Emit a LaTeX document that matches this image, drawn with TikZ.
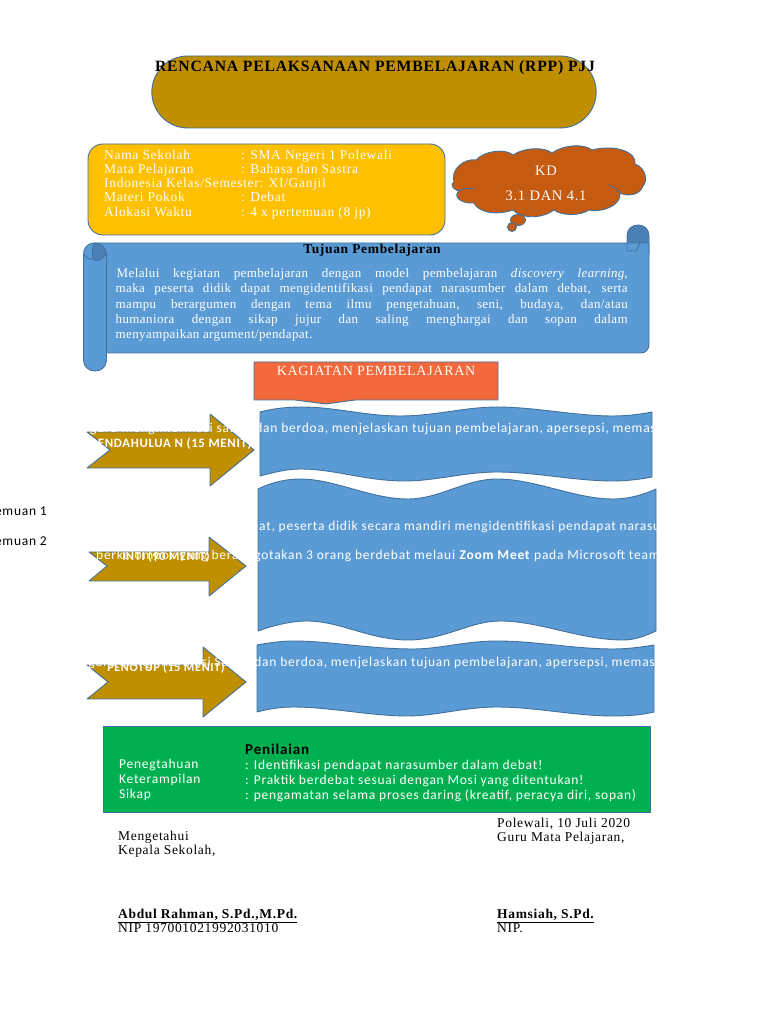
\documentclass[tikz,border=0pt]{standalone}
\usepackage{fontspec}
\usetikzlibrary{shapes.geometric,shapes.misc}
\setmainfont{Liberation Serif}[LetterSpace=5]
\setsansfont{Carlito}[LetterSpace=5.5]
\definecolor{gold}{HTML}{BF8F00}
\definecolor{amber}{HTML}{FFC000}
\definecolor{rust}{HTML}{C55A11}
\definecolor{sky}{HTML}{5B9BD5}
\definecolor{skydark}{HTML}{4A80B5}
\definecolor{edge}{HTML}{41719C}
\definecolor{coral}{HTML}{F4693B}
\definecolor{leaf}{HTML}{00B050}
\tikzset{
  panel/.style={draw=edge,line width=0.9bp},
  sertext/.style={font=\fontsize{13.5bp}{15bp}\selectfont,anchor=base west,inner sep=0pt},
  sanstext/.style={font=\sffamily\fontsize{13.5bp}{15bp}\selectfont,anchor=base west,inner sep=0pt},
  whitetext/.style={sertext,text=white},
  wavetext/.style={sanstext,text=white},
  arrowtext/.style={sanstext,text=white,anchor=base,font=\sffamily\bfseries\fontsize{12.1bp}{15bp}\selectfont},
}
\begin{document}
\begin{tikzpicture}[>=latex,line join=bevel,]
\useasboundingbox (0bp,0bp) rectangle (768bp,1024bp);
%%
\node (node_titlebox) at (374.0bp,932.0bp) [panel,fill=gold,rounded rectangle,minimum width=451bp,minimum height=72bp] {};
  \node (node_title) at (375.0bp,952.5bp) [sertext,anchor=base,font=\bfseries\fontsize{15.7bp}{15bp}\selectfont] {RENCANA PELAKSANAAN PEMBELAJARAN (RPP) PJJ};
%
\node (node_infobox) at (266.5bp,834.5bp) [panel,fill=amber,minimum width=357bp,minimum height=91bp,rounded corners=15bp] {};
  \node (node_nama) at (104.0bp,864.0bp) [whitetext] {Nama Sekolah};
  \node (node_namaval) at (241.0bp,864.0bp) [whitetext] {: SMA Negeri 1 Polewali};
  \node (node_mapel) at (104.0bp,850.0bp) [whitetext] {Mata Pelajaran};
  \node (node_mapelval) at (241.0bp,850.0bp) [whitetext] {: Bahasa dan Sastra};
  \node (node_kelas) at (104.0bp,836.0bp) [whitetext] {Indonesia Kelas/Semester: XI/Ganjil};
  \node (node_materi) at (104.0bp,822.0bp) [whitetext] {Materi Pokok};
  \node (node_materival) at (241.0bp,822.0bp) [whitetext] {: Debat};
  \node (node_alokasi) at (104.0bp,807.0bp) [whitetext] {Alokasi Waktu};
  \node (node_alokasival) at (241.0bp,807.0bp) [whitetext] {: 4 x pertemuan (8 jp)};
%
\draw [panel,fill=rust] (454bp,842bp) ..controls (450bp,855bp) and (465bp,866bp)  .. (476bp,864bp)
  ..controls (484bp,873bp) and (505bp,876bp)  .. (513bp,869bp)
  ..controls (525bp,877bp) and (545bp,877bp)  .. (552bp,871bp)
  ..controls (565bp,880bp) and (585bp,880bp)  .. (592bp,874bp)
  ..controls (615bp,880bp) and (637bp,872bp)  .. (635bp,860bp)
  ..controls (646bp,856bp) and (648bp,843bp)  .. (643bp,838bp)
  ..controls (640bp,829bp) and (628bp,827bp)  .. (620bp,831bp)
  ..controls (622bp,818bp) and (600bp,811bp)  .. (589bp,814bp)
  ..controls (580bp,808bp) and (562bp,808bp)  .. (554bp,814bp)
  ..controls (540bp,804bp) and (520bp,806bp)  .. (513bp,814bp)
  ..controls (495bp,808bp) and (478bp,812bp)  .. (474bp,821bp)
  ..controls (462bp,820bp) and (452bp,827bp)  .. (459bp,833bp)
  ..controls (452bp,835bp) and (450bp,840bp)  .. (454bp,842bp) -- cycle;
  \draw [panel] (609bp,839bp) ..controls (614bp,837bp) and (618bp,834bp)  .. (620bp,831bp);
  \draw [panel] (459bp,833bp) ..controls (463bp,836bp) and (470bp,836bp)  .. (475bp,835bp);
  \node (node_bubble_a) at (518.0bp,804.0bp) [panel,fill=rust,ellipse,minimum width=15bp,minimum height=11bp,inner sep=0pt] {};
  \node (node_bubble_b) at (512.0bp,797.0bp) [panel,fill=rust,circle,minimum size=9bp,inner sep=0pt] {};
  \node (node_kd) at (546.0bp,848.0bp) [whitetext,anchor=base,font=\fontsize{14.5bp}{15bp}\selectfont] {KD};
  \node (node_kdval) at (546.0bp,823.0bp) [whitetext,anchor=base,font=\fontsize{14.5bp}{15bp}\selectfont] {3.1 DAN 4.1};
%
\draw [panel,fill=skydark] (627bp,781bp) -- (627bp,788bp) ..controls (627bp,795bp) and (632bp,799bp)  .. (638bp,799bp)
  ..controls (644bp,799bp) and (649bp,795bp)  .. (649bp,788bp) -- (649bp,770bp) -- (627bp,770bp) -- cycle;
\draw [panel,fill=sky] (83.5bp,770bp) ..controls (83.5bp,776bp) and (88bp,781bp)  .. (94bp,781bp) -- (649bp,781bp) -- (649bp,680bp)
  ..controls (649bp,675bp) and (646bp,671bp)  .. (641bp,671bp) -- (106.5bp,671bp) -- (106.5bp,664bp)
  ..controls (106.5bp,657bp) and (101bp,653bp)  .. (95bp,653bp)
  ..controls (89bp,653bp) and (83.5bp,657bp)  .. (83.5bp,664bp) -- cycle;
  \draw [panel] (627bp,781bp) -- (627bp,773bp) -- (636bp,773bp) -- (640bp,781bp);
  \draw [panel] (106.5bp,671bp) -- (106.5bp,770bp);
  \draw [panel,fill=skydark] (95bp,781bp) ..controls (101bp,781bp) and (106.5bp,775bp)  .. (106.5bp,770bp)
    ..controls (100bp,763bp) and (94bp,761bp)  .. (93bp,766bp)
    ..controls (92bp,772bp) and (92bp,778bp)  .. (95bp,781bp) -- cycle;
  \draw [panel] (83.5bp,770bp) ..controls (87bp,765bp) and (91bp,763bp)  .. (93bp,766bp);
  \node (node_tujuan) at (372.0bp,770.0bp) [sertext,anchor=base,font=\bfseries\fontsize{13.5bp}{15bp}\selectfont] {Tujuan Pembelajaran};
  \node (node_para) at (115.5bp,755.5bp) [sertext,anchor=north west,text=white,text width=512bp,align=justify,font=\fontsize{13bp}{15.2bp}\selectfont\addfontfeatures{LetterSpace=3}] {\hspace*{1bp}Melalui kegiatan pembelajaran dengan model pembelajaran \textit{discovery learning},\linebreak
    maka peserta didik dapat mengidentifikasi pendapat narasumber dalam debat, serta\linebreak
    mampu berargumen dengan tema ilmu pengetahuan, seni, budaya, dan/atau\linebreak
    humaniora dengan sikap jujur dan saling menghargai dan sopan dalam\linebreak
    menyampaikan argument/pendapat.};
%
\draw [panel,fill=coral] (254bp,662bp) -- (498bp,662bp) -- (498bp,624bp) -- (355bp,624bp) -- (326bp,620bp) -- (295bp,624bp) -- (254bp,624bp) -- cycle;
  \node (node_kegiatan) at (376.0bp,648.0bp) [whitetext,anchor=base,font=\fontsize{14bp}{15bp}\selectfont] {KAGIATAN PEMBELAJARAN};
%
\draw [panel,fill=sky] (260bp,612bp) ..controls (275bp,616bp) and (290bp,617bp)  .. (302bp,617bp)
  ..controls (335bp,617bp) and (365bp,608bp)  .. (400bp,608bp)
  ..controls (435bp,608bp) and (465bp,617bp)  .. (497bp,617bp)
  ..controls (535bp,617bp) and (575bp,608bp)  .. (613bp,608bp)
  ..controls (628bp,608bp) and (642bp,610bp)  .. (652bp,612bp) -- (652bp,547bp)
  ..controls (642bp,545bp) and (628bp,543bp)  .. (613bp,543bp)
  ..controls (575bp,543bp) and (535bp,552bp)  .. (497bp,552bp)
  ..controls (465bp,552bp) and (435bp,543bp)  .. (405bp,543bp)
  ..controls (365bp,543bp) and (335bp,555bp)  .. (300bp,555bp)
  ..controls (288bp,555bp) and (275bp,552bp)  .. (260bp,548bp) -- cycle;
\draw [panel,fill=sky] (258bp,535bp) ..controls (270bp,541bp) and (285bp,545bp)  .. (300bp,545bp)
  ..controls (335bp,545bp) and (370bp,525bp)  .. (408bp,525bp)
  ..controls (440bp,525bp) and (465bp,545bp)  .. (497bp,545bp)
  ..controls (535bp,545bp) and (575bp,525bp)  .. (613bp,525bp)
  ..controls (630bp,525bp) and (645bp,530bp)  .. (656bp,535bp) -- (656bp,393bp)
  ..controls (645bp,388bp) and (635bp,384bp)  .. (623bp,384bp)
  ..controls (580bp,384bp) and (540bp,403bp)  .. (500bp,403bp)
  ..controls (470bp,403bp) and (445bp,384bp)  .. (408bp,384bp)
  ..controls (370bp,384bp) and (340bp,403bp)  .. (307bp,403bp)
  ..controls (290bp,403bp) and (272bp,398bp)  .. (258bp,393bp) -- cycle;
\draw [panel,fill=sky] (257bp,379bp) ..controls (268bp,381bp) and (281bp,383bp)  .. (293bp,383bp)
  ..controls (330bp,383bp) and (370bp,375bp)  .. (413bp,375bp)
  ..controls (440bp,375bp) and (465bp,383bp)  .. (497bp,383bp)
  ..controls (535bp,383bp) and (575bp,375bp)  .. (613bp,375bp)
  ..controls (628bp,375bp) and (642bp,377bp)  .. (654bp,379bp) -- (654bp,312bp)
  ..controls (642bp,309bp) and (628bp,308bp)  .. (613bp,308bp)
  ..controls (575bp,308bp) and (535bp,317bp)  .. (497bp,317bp)
  ..controls (465bp,317bp) and (435bp,308bp)  .. (408bp,308bp)
  ..controls (370bp,308bp) and (330bp,317bp)  .. (293bp,317bp)
  ..controls (281bp,317bp) and (268bp,315bp)  .. (257bp,312bp) -- cycle;
%
\draw [panel,fill=gold] (87bp,592bp) -- (210bp,592bp) -- (210bp,610bp) -- (254bp,574bp) -- (210bp,538bp) -- (210bp,556bp) -- (87bp,556bp) -- (110bp,574bp) -- cycle;
\draw [panel,fill=gold] (89bp,472bp) -- (209bp,472bp) -- (209bp,487bp) -- (246bp,458bp) -- (209bp,428bp) -- (209bp,443bp) -- (89bp,443bp) -- (107bp,458bp) -- cycle;
\draw [panel,fill=gold] (87bp,359bp) -- (203bp,359bp) -- (203bp,377bp) -- (246bp,342bp) -- (203bp,307bp) -- (203bp,325bp) -- (87bp,325bp) -- (108bp,342bp) -- cycle;
%
\node (node_wave_a) at (656.0bp,591.0bp) [wavetext,anchor=base east] {Ibu guru menginformasi salam dan berdoa, menjelaskan tujuan pembelajaran, apersepsi, memas};
  \node (node_wave_b) at (259.0bp,493.0bp) [wavetext] {at, peserta didik secara mandiri mengidentifikasi pendapat narasu};
  \node (node_wave_c) at (96.0bp,464.0bp) [wavetext] {berkelompok yang beranggotakan 3 orang berdebat melaui \textbf{Zoom Meet} pada Microsoft team};
  \node (node_wave_d) at (655.0bp,357.0bp) [wavetext,anchor=base east] {Ibu guru menginformasi Salam dan berdoa, menjelaskan tujuan pembelajaran, apersepsi, memas};
  \node (node_pendahuluan) at (171.0bp,576.0bp) [arrowtext,font=\sffamily\bfseries\fontsize{12.8bp}{15bp}\selectfont] {PENDAHULUA N (15 MENIT)};
  \node (node_inti) at (166.0bp,463.0bp) [arrowtext] {INTI (90 MENIT)};
  \node (node_penutup) at (166.0bp,352.0bp) [arrowtext] {PENOTUP (15 MENIT)};
  \node (node_pert_a) at (47.0bp,508.0bp) [sanstext,anchor=base east] {emuan 1};
  \node (node_pert_b) at (47.0bp,478.0bp) [sanstext,anchor=base east] {emuan 2};
%
\node (node_nilaibox) at (376.5bp,255.0bp) [panel,fill=leaf,minimum width=547bp,minimum height=86bp] {};
  \node (node_penilaian) at (245.0bp,269.0bp) [sanstext,font=\sffamily\bfseries\fontsize{15bp}{15bp}\selectfont] {Penilaian};
  \node (node_peng) at (119.0bp,255.0bp) [sanstext,text=white] {Penegtahuan};
  \node (node_pengval) at (245.0bp,254.0bp) [sanstext,text=white] {: Identifikasi pendapat narasumber dalam debat!};
  \node (node_ket) at (119.0bp,240.0bp) [sanstext,text=white] {Keterampilan};
  \node (node_ketval) at (245.0bp,239.0bp) [sanstext,text=white] {: Praktik berdebat sesuai dengan Mosi yang ditentukan!};
  \node (node_sikap) at (119.0bp,225.0bp) [sanstext,text=white] {Sikap};
  \node (node_sikapval) at (245.0bp,224.0bp) [sanstext,text=white] {: pengamatan selama proses daring (kreatif, peracya diri, sopan)};
%
\node (node_tanggal) at (497.0bp,196.0bp) [sertext] {Polewali, 10 Juli 2020};
  \node (node_guru) at (497.0bp,182.0bp) [sertext] {Guru Mata Pelajaran,};
  \node (node_mengetahui) at (118.0bp,183.0bp) [sertext] {Mengetahui};
  \node (node_kepala) at (118.0bp,169.0bp) [sertext] {Kepala Sekolah,};
  \node (node_abdul) at (118.0bp,105.0bp) [sertext,font=\bfseries\fontsize{13.5bp}{15bp}\selectfont] {\underline{Abdul Rahman, S.Pd.,M.Pd.}};
  \node (node_nipa) at (118.0bp,91.0bp) [sertext] {NIP 197001021992031010};
  \node (node_hamsiah) at (497.0bp,105.0bp) [sertext,font=\bfseries\fontsize{13.5bp}{15bp}\selectfont] {\underline{Hamsiah, S.Pd.}};
  \node (node_nipb) at (497.0bp,91.0bp) [sertext] {NIP.};
%
\end{tikzpicture}
\end{document}
